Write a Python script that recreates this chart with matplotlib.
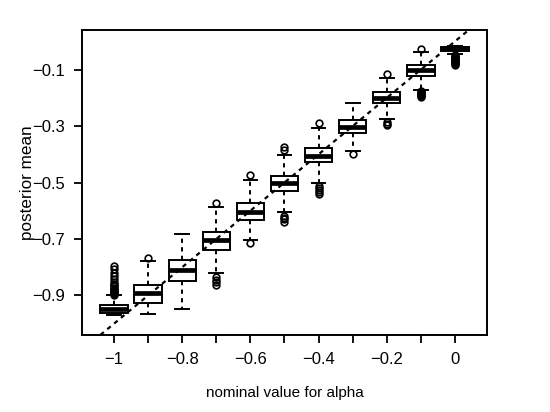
import matplotlib
matplotlib.use("Agg")
import matplotlib.pyplot as plt
import numpy as np

plt.rcParams['font.family'] = ['Liberation Sans', 'DejaVu Sans']

# nominal alpha values (one box per value)
alpha_labels = ["\u22121", "\u22120.9", "\u22120.8", "\u22120.7", "\u22120.6", "\u22120.5",
                "\u22120.4", "\u22120.3", "\u22120.2", "\u22120.1", "0"]
alpha_values = [-1.0, -0.9, -0.8, -0.7, -0.6, -0.5, -0.4, -0.3, -0.2, -0.1, 0.0]

# box statistics
medians = [-0.949, -0.893, -0.810, -0.702, -0.606, -0.502, -0.406, -0.302, -0.200, -0.102, -0.025]
q1s = [-0.961, -0.928, -0.850, -0.740, -0.632, -0.530, -0.429, -0.326, -0.220, -0.121, -0.033]
q3s = [-0.935, -0.864, -0.775, -0.674, -0.573, -0.476, -0.377, -0.279, -0.179, -0.082, -0.019]
whis_lo = [-0.968, -0.966, -0.947, -0.820, -0.702, -0.606, -0.500, -0.388, -0.275, -0.173, -0.044]
whis_hi = [-0.897, -0.779, -0.681, -0.585, -0.490, -0.402, -0.306, -0.218, -0.128, -0.038, -0.016]

# outliers per box
fliers = [
    [-0.794, -0.806, -0.819, -0.831, -0.843, -0.852, -0.858, -0.863, -0.868, -0.872,
     -0.876, -0.880, -0.884, -0.887, -0.890, -0.893, -0.896, -0.899],
    [-0.768],
    [],
    [-0.572, -0.836, -0.845, -0.854, -0.864],
    [-0.474, -0.716],
    [-0.374, -0.386, -0.617, -0.624, -0.631, -0.639],
    [-0.288, -0.512, -0.519, -0.526, -0.533, -0.540],
    [-0.399],
    [-0.114, -0.286, -0.291, -0.296],
    [-0.026, -0.176, -0.179, -0.182, -0.185, -0.188, -0.191, -0.194, -0.197],
    [-0.048, -0.051, -0.054, -0.057, -0.060, -0.063, -0.066, -0.069, -0.072, -0.075,
     -0.078, -0.081, -0.084],
]

y_ticks = [-0.1, -0.3, -0.5, -0.7, -0.9]
y_ticklabels = ["\u22120.1", "\u22120.3", "\u22120.5", "\u22120.7", "\u22120.9"]

stats = []
for i in range(len(alpha_values)):
    stats.append({
        "label": alpha_labels[i],
        "med": medians[i],
        "q1": q1s[i],
        "q3": q3s[i],
        "whislo": whis_lo[i],
        "whishi": whis_hi[i],
        "fliers": fliers[i],
    })

fig = plt.figure(figsize=(5.5, 4.12), dpi=100)
ax = fig.add_axes([0.149, 0.187, 0.7365, 0.740])

positions = np.arange(1, len(alpha_values) + 1)
ax.bxp(
    stats,
    positions=positions,
    widths=0.8,
    capwidths=0.4,
    patch_artist=True,
    boxprops=dict(facecolor="white", edgecolor="black", linewidth=1.4),
    medianprops=dict(color="black", linewidth=3.4, solid_capstyle="butt"),
    whiskerprops=dict(color="black", linewidth=1.4, linestyle=(0, (2.2, 2.2))),
    capprops=dict(color="black", linewidth=1.4),
    flierprops=dict(marker="o", markersize=4.8, markerfacecolor="none",
                    markeredgecolor="black", markeredgewidth=1.2),
)

# identity line y = alpha, in box-position coordinates
line_x = np.array([0.0, 12.0])
line_y = (line_x - positions[-1]) / 10.0 + alpha_values[-1]
ax.plot(line_x, line_y, color="black", linewidth=1.6, linestyle=(0, (2, 2)), zorder=5)

ax.set_xlim(0.06, 11.94)
ax.set_ylim(-1.04, 0.04)

ax.set_xticks(positions)
ax.set_xticklabels([lab if i % 2 == 0 else "" for i, lab in enumerate(alpha_labels)])
ax.set_yticks(y_ticks)
ax.set_yticklabels(y_ticklabels)

for sp in ax.spines.values():
    sp.set_linewidth(1.4)
ax.tick_params(axis="both", length=6, width=1.3, labelsize=12, pad=6)

ax.set_xlabel("nominal value for alpha", fontsize=11, labelpad=14)
ax.set_ylabel("posterior mean", fontsize=12.3, labelpad=-2)

fig.savefig("out.png", dpi=100)
